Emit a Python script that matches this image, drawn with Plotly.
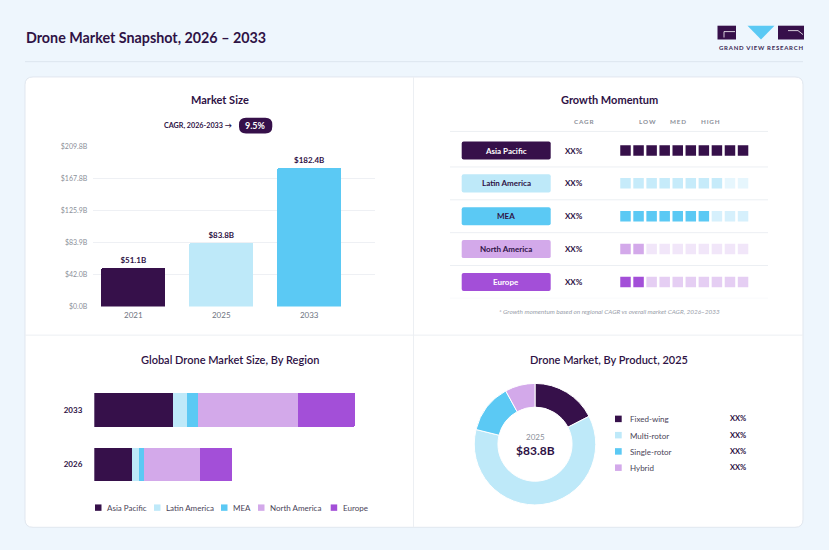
import plotly.graph_objects as go

W, H = 829, 550

# ---- data ----
years = ["2021", "2025", "2033"]
market_size = [51.1, 83.8, 182.4]
cagr_text = "9.5%"

regions = ["Asia Pacific", "Latin America", "MEA", "North America", "Europe"]
region_years = ["2026", "2033"]
region_2026 = [26.2, 4.9, 3.7, 39.2, 22.4]
region_2033 = [54.8, 9.8, 7.7, 70.0, 40.1]
region_totals = [96.4, 182.4]

momentum_cagr = ["XX%", "XX%", "XX%", "XX%", "XX%"]
momentum_filled = [10, 8, 7, 2, 2]
momentum_steps = 10

products = ["Fixed-wing", "Multi-rotor", "Single-rotor", "Hybrid"]
product_values = [14.6, 51.5, 11.0, 6.7]
product_share = ["XX%", "XX%", "XX%", "XX%"]
product_year = "2025"

# ---- style ----
FONT = "Lato"
INK = "#2E1245"
GREY = "#8B8F99"
DARK = "#36104A"
LBLUE = "#BEE9F9"
BLUE = "#5BC9F4"
LILAC = "#D3A9EA"
PURPLE = "#A34FD8"
region_colors = [DARK, LBLUE, BLUE, LILAC, PURPLE]
square_on = [DARK, "#C6EBFA", BLUE, LILAC, PURPLE]
square_off = [DARK, "#E6F6FD", "#D6F0FC", "#F1E6F9", "#E5CEF3"]
label_ink = ["white", INK, INK, INK, "white"]
year_colors = [DARK, LBLUE, BLUE]
product_colors = [DARK, LBLUE, BLUE, LILAC]


def X(px):
    return px / W


def Y(py):
    return 1 - py / H


def rrect(a, b, c, d, rx, ry):
    # rounded rectangle path; a<c, b<d in whatever coords the shape refers to
    return (f"M{a+rx},{b} L{c-rx},{b} Q{c},{b} {c},{b+ry} L{c},{d-ry} Q{c},{d} {c-rx},{d} "
            f"L{a+rx},{d} Q{a},{d} {a},{d-ry} L{a},{b+ry} Q{a},{b} {a+rx},{b} Z")


def pbox(x0, y0, x1, y1, r):
    return rrect(X(x0), Y(y1), X(x1), Y(y0), r / W, r / H)


fig = go.Figure()
shapes = []
notes = []


def text(px, py, s, size=8, color=INK, weight=400, anchor="center"):
    notes.append(dict(x=X(px), y=Y(py), xref="paper", yref="paper", text=s, showarrow=False,
                      xanchor=anchor, yanchor="middle",
                      font=dict(family=FONT, size=size, color=color, weight=weight)))


# ---- page frame ----
text(24, 33, "Drone Market Snapshot, 2026 – 2033", 14.3, INK, 700, "left")
shapes.append(dict(type="line", xref="paper", yref="paper", x0=X(25), x1=X(803), y0=Y(57.5), y1=Y(57.5),
                   line=dict(color="#DCE5EF", width=1)))
shapes.append(dict(type="path", xref="paper", yref="paper", path=pbox(25, 73, 803, 530, 8),
                   fillcolor="white", line=dict(color="#E1E7EF", width=1), layer="below"))
shapes.append(dict(type="line", xref="paper", yref="paper", x0=X(413.5), x1=X(413.5), y0=Y(73), y1=Y(530),
                   line=dict(color="#ECEFF3", width=1), layer="below"))
shapes.append(dict(type="line", xref="paper", yref="paper", x0=X(25), x1=X(803), y0=Y(335), y1=Y(335),
                   line=dict(color="#ECEFF3", width=1), layer="below"))

# logo
shapes.append(dict(type="rect", xref="paper", yref="paper", x0=X(717.5), x1=X(736), y0=Y(35), y1=Y(21),
                   fillcolor=DARK, line=dict(width=0)))
shapes.append(dict(type="path", xref="paper", yref="paper",
                   path=f"M{X(724)},{Y(33)} L{X(724)},{Y(27)} L{X(735)},{Y(27)}",
                   line=dict(color="white", width=0.8)))
shapes.append(dict(type="path", xref="paper", yref="paper",
                   path=f"M{X(747.5)},{Y(21)} L{X(774.5)},{Y(21)} L{X(761)},{Y(35)} Z",
                   fillcolor=BLUE, line=dict(width=0)))
shapes.append(dict(type="rect", xref="paper", yref="paper", x0=X(778), x1=X(804), y0=Y(35), y1=Y(21),
                   fillcolor=DARK, line=dict(width=0)))
shapes.append(dict(type="path", xref="paper", yref="paper",
                   path=f"M{X(788)},{Y(26)} L{X(798)},{Y(26)} L{X(803)},{Y(30)}",
                   line=dict(color="white", width=0.8)))
logo_words = ["GRAND", "VIEW", "RESEARCH"]
text(760.7, 43.5, "  ".join("\u2009".join(w) for w in logo_words), 6, "#3B2A55", 700)

# ---- panel 1: market size ----
text(219.5, 96, "Market Size", 11, INK, 700)
text(234, 122.3, "CAGR, 2026-2033 →", 7.2, INK, 700, "right")
shapes.append(dict(type="path", xref="paper", yref="paper", path=pbox(239, 114.3, 272.3, 130.3, 7),
                   fillcolor=DARK, line=dict(width=0)))
text(255.7, 122.3, cagr_text, 9, "white", 700)

ymax = max(market_size) * 1.15
ticks = [ymax * i / 5 for i in range(6)]
fig.add_trace(go.Bar(x=years, y=market_size, marker=dict(color=year_colors, line=dict(width=0)),
                     width=0.727, texttemplate="$%{y:.1f}B", textposition="outside",
                     textfont=dict(family=FONT, size=8, color=INK, weight=700),
                     cliponaxis=False, showlegend=False, hoverinfo="skip", xaxis="x", yaxis="y"))

# ---- panel 2: growth momentum ----
text(609, 96, "Growth Momentum", 11, INK, 700)
for px, s in [(584, "CAGR"), (647.5, "LOW"), (678, "MED"), (710, "HIGH")]:
    text(px, 118.3, "\u2009".join(s), 6.3, GREY, 700)
shapes.append(dict(type="line", xref="paper", yref="paper", x0=X(450), x1=X(768), y0=Y(128.3), y1=Y(128.3),
                   line=dict(color="#ECEFF3", width=1)))
for i, reg in enumerate(regions):
    shapes.append(dict(type="path", xref="paper", yref="y3",
                       path=rrect(X(461.7), i - 0.275, X(550.7), i + 0.275, 2 / W, 0.06),
                       fillcolor=region_colors[i], line=dict(width=0)))
    shapes.append(dict(type="line", xref="paper", yref="y3", x0=X(450), x1=X(768),
                       y0=i + 0.5, y1=i + 0.5, line=dict(color="#ECEFF3", width=1)))
    notes.append(dict(x=X(506.2), y=i, xref="paper", yref="y3", text=reg, showarrow=False,
                      font=dict(family=FONT, size=8, color=label_ink[i], weight=700)))
    notes.append(dict(x=X(585), y=i, xref="paper", yref="y3", text=momentum_cagr[i], showarrow=False,
                      font=dict(family=FONT, size=8, color=INK, weight=700)))
    steps = list(range(momentum_steps))
    fig.add_trace(go.Scatter(x=steps, y=[i] * momentum_steps, mode="markers",
                             marker=dict(symbol="square", size=10.5, line=dict(width=0),
                                         color=[square_on[i] if k < momentum_filled[i] else square_off[i]
                                                for k in steps]),
                             showlegend=False, hoverinfo="skip", xaxis="x3", yaxis="y3"))
text(609.5, 311, "<i>* Growth momentum based on regional CAGR vs overall market CAGR, 2026–2033</i>", 6.4, "#9AA0AA")

# ---- panel 3: by region ----
text(229.7, 359.3, "Global Drone Market Size, By Region", 11, INK, 600)
for i, reg in enumerate(regions):
    fig.add_trace(go.Bar(y=region_years, x=[region_2026[i], region_2033[i]], orientation="h",
                         name=reg, marker=dict(color=region_colors[i], line=dict(width=0)),
                         width=0.62, showlegend=False, hoverinfo="skip", xaxis="x2", yaxis="y2"))
for yr, tot in zip(region_years, region_totals):
    notes.append(dict(x=tot, y=yr, xref="x2", yref="y2", text=f"${tot:.1f}B", showarrow=False,
                      xanchor="left", xshift=5,
                      font=dict(family=FONT, size=8, color=INK, weight=700)))
leg_x = [95, 154, 221, 258, 330.7]
for i, reg in enumerate(regions):
    shapes.append(dict(type="rect", xref="paper", yref="paper", x0=X(leg_x[i]), x1=X(leg_x[i] + 6.5),
                       y0=Y(513.3), y1=Y(506.8), fillcolor=region_colors[i], line=dict(width=0)))
    text(leg_x[i] + 10, 510, reg, 8, "#4A4458", 400, "left")

# ---- panel 4: by product ----
text(609.2, 359.3, "Drone Market, By Product, 2025", 11, INK, 600)
fig.add_trace(go.Pie(labels=products, values=product_values, hole=0.61, sort=False,
                     direction="clockwise", rotation=0, textinfo="none",
                     marker=dict(colors=product_colors, line=dict(color="white", width=1)),
                     domain=dict(x=[X(473.3), X(596.7)], y=[Y(507.3), Y(384)]),
                     showlegend=False, hoverinfo="skip"))
text(535, 438.5, product_year, 8, GREY)
text(535, 452, f"${sum(product_values):.1f}B", 12, INK, 700)
for i, p in enumerate(products):
    py = 420 + i * 16.5
    shapes.append(dict(type="rect", xref="paper", yref="paper", x0=X(615), x1=X(621.7),
                       y0=Y(py + 3.3), y1=Y(py - 3.3), fillcolor=product_colors[i], line=dict(width=0)))
    text(627.7, py + 0.5, p, 8, "#4A4458", 400, "left")
    text(738, py, product_share[i], 7.5, INK, 700)

# ---- axes ----
xr3 = [-(625.5 - 450) / 13.06, (768 - 625.5) / 13.06]
fig.update_layout(
    width=W, height=H, margin=dict(l=0, r=0, t=0, b=0),
    paper_bgcolor="#EEF6FD", plot_bgcolor="rgba(0,0,0,0)",
    barmode="stack", barcornerradius=2,
    font=dict(family=FONT, color=INK),
    shapes=shapes, annotations=notes,
    xaxis=dict(domain=[X(93.3), X(375)], range=[-0.4545, 2.748], type="category", showgrid=False,
               showline=False, zeroline=False, ticks="", tickfont=dict(size=8, color="#6E7380"),
               ticklabelstandoff=2, fixedrange=True),
    yaxis=dict(domain=[Y(306), Y(144)], range=[0, ymax], tickvals=ticks,
               ticktext=[f"${t:.1f}B" for t in ticks], tickfont=dict(size=7, color=GREY),
               showgrid=True, gridcolor="#EEF0F4", gridwidth=1, zeroline=False, showline=False,
               ticks="", ticklabelstandoff=5, fixedrange=True),
    xaxis2=dict(domain=[X(94.3), X(375)], range=[0, (375 - 94.3) / 1.4293], visible=False,
                anchor="y2", fixedrange=True),
    yaxis2=dict(domain=[Y(494), Y(383)], range=[-0.5, 1.5], type="category", anchor="x2",
                categoryorder="array", categoryarray=region_years, showgrid=False, showline=False,
                zeroline=False, ticks="", ticklabelstandoff=11,
                tickfont=dict(size=8, color=INK, weight=700), fixedrange=True),
    xaxis3=dict(domain=[X(450), X(768)], range=xr3, visible=False, anchor="y3", fixedrange=True),
    yaxis3=dict(domain=[Y(297.7), Y(131)], range=[4.5, -0.5], visible=False, anchor="x3",
                fixedrange=True),
)

fig.write_html("out.html", config={"displayModeBar": False},
               post_script="document.body.style.margin='0';")
